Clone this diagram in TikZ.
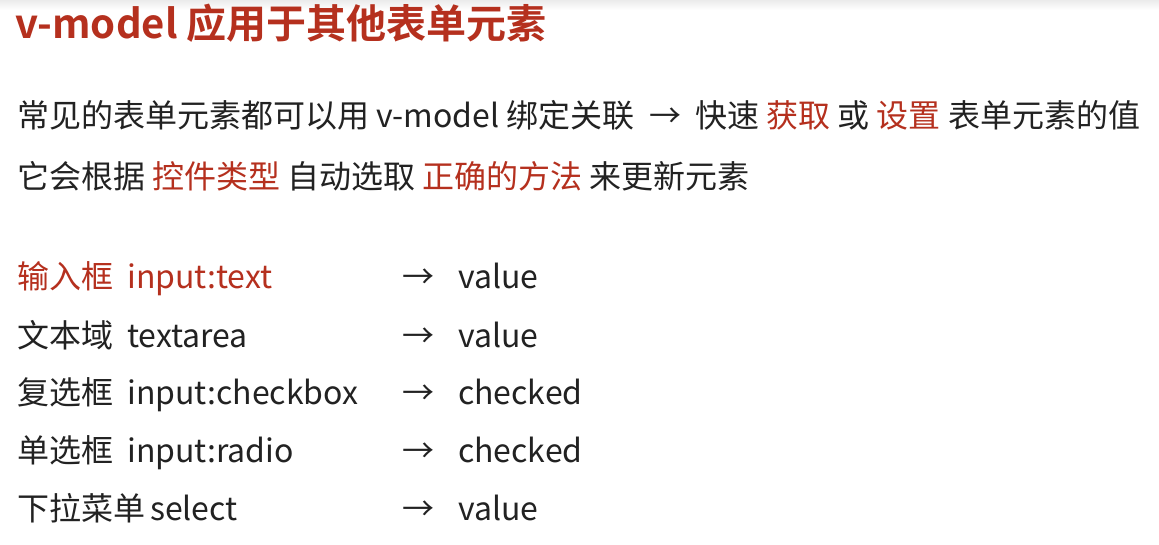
\documentclass[tikz,border=0pt]{standalone}
\usepackage{fontspec}
\setmainfont{Noto Sans CJK SC}
\newfontfamily\cjkbold{Noto Sans CJK SC Bold}
\definecolor{hl}{HTML}{B5301E}
\definecolor{tx}{HTML}{222222}
\begin{document}
\begin{tikzpicture}[x=1pt,y=-1pt,
  txt/.style={anchor=base west,inner sep=0pt,text=tx,font=\fontsize{32}{38}\selectfont},
  ttl/.style={anchor=base west,inner sep=0pt,text=hl,font=\cjkbold\fontsize{40}{48}\selectfont}]
\useasboundingbox[fill=white] (0,0) rectangle (1159,545);
\shade[top color=black!8,bottom color=white] (0,0) rectangle (1159,10);
\node[ttl] (title) at (15,39) {v-model 应用于其他表单元素};
\node[txt] (l1) at (17,128) {常见的表单元素都可以用 v-model 绑定关联 \ → \ 快速 \textcolor{hl}{获取} 或 \textcolor{hl}{设置} 表单元素的值};
\node[txt] (l2) at (17,189) {它会根据 \textcolor{hl}{控件类型} 自动选取 \textcolor{hl}{正确的方法} 来更新元素};
\foreach \y/\a/\b/\c [count=\i] in {
  289/输入框/input:text/value,
  347/文本域/textarea/value,
  404/复选框/input:checkbox/checked,
  462/单选框/input:radio/checked,
  520/下拉菜单/select/value}{
  \ifnum\i=1
    \node[txt,text=hl] (a\i) at (17,\y) {\a};
    \node[txt,text=hl] (b\i) at (127,\y) {\b};
  \else
    \node[txt] (a\i) at (17,\y) {\a};
    \node[txt] (b\i) at (\ifnum\i=5 150\else 127\fi,\y) {\b};
  \fi
  \node[txt] (r\i) at (402,\y) {→};
  \node[txt] (c\i) at (458,\y) {\c};
}
\end{tikzpicture}
\end{document}
